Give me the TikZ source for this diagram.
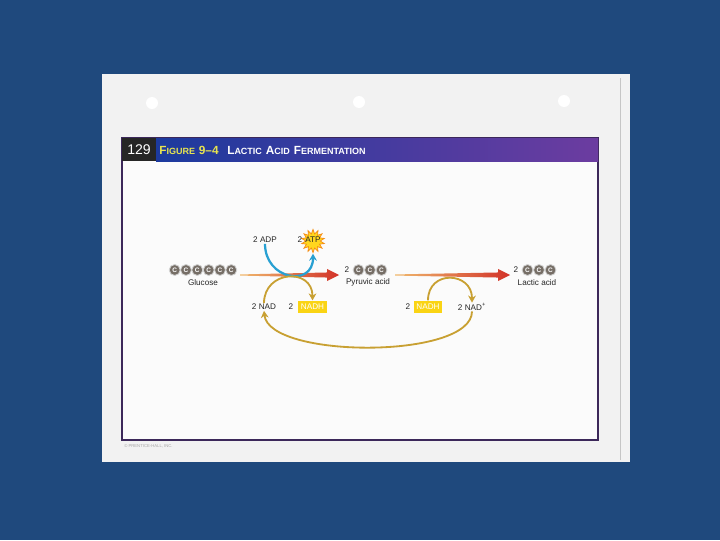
\documentclass[tikz,border=0pt]{standalone}
\usepackage{fontspec}
\setmainfont{Liberation Sans}
\usetikzlibrary{shapes.geometric,arrows.meta,calc}

\definecolor{slide}{RGB}{31,73,125}
\definecolor{paper}{RGB}{242,242,242}
\definecolor{panel}{RGB}{251,251,251}
\definecolor{frame}{RGB}{60,40,90}
\definecolor{hdleft}{RGB}{28,58,158}
\definecolor{hdright}{RGB}{108,60,160}
\definecolor{figyellow}{RGB}{232,228,80}
\definecolor{carbon}{RGB}{118,110,102}
\definecolor{adpblue}{RGB}{40,160,210}
\definecolor{nadgold}{RGB}{200,160,50}
\definecolor{hilite}{RGB}{250,212,20}
\definecolor{starfill}{RGB}{255,215,30}
\definecolor{starline}{RGB}{245,140,20}
\definecolor{flowstart}{RGB}{240,185,110}
\definecolor{flowend}{RGB}{210,50,40}

\newcommand{\smc}[2]{{\fontsize{8.4}{9}\selectfont #1}{\fontsize{6.4}{7}\selectfont #2}}
\newcommand{\flowarrow}[2]{%
  \shade[left color=flowstart, right color=flowend]
    let \p1=(#1), \p2=(#2) in
    (\x1,{\y1+0.4pt}) -- ({\x2-8.5pt},{\y2+1.8pt}) -- ({\x2-8.5pt},{\y2+4.3pt})
    -- (\x2,\y2) -- ({\x2-8.5pt},{\y2-4.3pt}) -- ({\x2-8.5pt},{\y2-1.8pt})
    -- (\x1,{\y1-0.4pt}) -- cycle;}

\tikzset{
  carbon/.style={circle, inner sep=0pt, minimum size=7.8pt, fill=carbon,
    draw=gray!35, line width=0.6pt, text=white, font=\bfseries\fontsize{4.6}{5}\selectfont},
  lbl/.style={inner sep=0.5pt, text=black!85, font=\fontsize{5.8}{6}\selectfont},
  hl/.style={lbl, fill=hilite, text=white, inner sep=0pt, minimum width=20.5pt, minimum height=9pt},
  bluearc/.style={adpblue, line width=1.6pt, -{Stealth[length=5pt,width=5.5pt]}},
  goldarc/.style={nadgold, line width=1.3pt, -{Stealth[length=5pt,width=5.5pt]}},
}

\begin{document}
\begin{tikzpicture}[x=0.025cm, y=-0.025cm]
  \useasboundingbox (0,0) rectangle (720,540);
  % slide and page
  \fill[slide] (0,0) rectangle (720,540);
  \fill[paper] (102,74) rectangle (630,462);
  \draw[gray!45, line width=0.6pt] (620,78) -- (620,460);
  \fill[white] (152,103) circle (6) (359,102) circle (6) (564,101) circle (6);
  % panel and header
  \draw[frame, fill=panel, line width=1pt] (122,138) rectangle (598,440);
  \shade[left color=hdleft, right color=hdright] (156,138) rectangle (598,161);
  \fill[black!85] (122,138) rectangle (156,161);
  \draw
    (139,150) node[text=white, font=\fontsize{10}{10}\selectfont] (num) {129}
    (159,150) node[anchor=west, inner sep=0pt, text=figyellow, font=\bfseries] (fig) {\smc{F}{IGURE} {\fontsize{8.4}{9}\selectfont 9--4}}
    (227,150) node[anchor=west, inner sep=0pt, text=white, font=\bfseries] (title) {\smc{L}{ACTIC} \smc{A}{CID} \smc{F}{ERMENTATION}};
  \node[anchor=west, text=gray!70, inner sep=0pt, font=\fontsize{3}{3}\selectfont] (copy) at (124,446) {\copyright\ PRENTICE-HALL, INC.};

  % molecules
  \draw
    (174.7,270) node[carbon] (g1) {C}
    (186.0,270) node[carbon] (g2) {C}
    (197.3,270) node[carbon] (g3) {C}
    (208.7,270) node[carbon] (g4) {C}
    (220.0,270) node[carbon] (g5) {C}
    (231.3,270) node[carbon] (g6) {C}
    (203,282.5) node[lbl] (glucose) {Glucose}
    (347,270) node[lbl] (p0) {2}
    (358.5,270) node[carbon] (p1) {C}
    (370.0,270) node[carbon] (p2) {C}
    (381.5,270) node[carbon] (p3) {C}
    (368,282.5) node[lbl] (pyruvic) {Pyruvic acid}
    (516,270) node[lbl] (l0) {2}
    (527.5,270) node[carbon] (l1) {C}
    (539.0,270) node[carbon] (l2) {C}
    (550.5,270) node[carbon] (l3) {C}
    (537,282.5) node[lbl] (lactic) {Lactic acid};

  % energy carriers
  \node[star, star points=14, star point ratio=1.6, minimum size=16.5pt, inner sep=0pt,
    fill=starfill, draw=starline, line width=0.5pt] (burst) at (313,241) {};
  \draw
    (265,240) node[lbl] (adp) {2 ADP}
    (300,240) node[lbl] (atp2) {2}
    (313,240) node[lbl] (atp) {ATP}
    (264,307) node[lbl] (nad) {2 NAD}
    (291,307) node[lbl] (nadh2a) {2}
    (312.5,307) node[hl] (nadh1) {NADH}
    (408,307) node[lbl] (nadh2b) {2}
    (428,307) node[hl] (nadh2) {NADH}
    (472,307) node[lbl] (nadp) {2 NAD\textsuperscript{+}};

  % main flow
  \coordinate (f1s) at (240,275);
  \coordinate (f1e) at (339,275);
  \coordinate (f2s) at (395,275);
  \coordinate (f2e) at (510,275);
  \flowarrow{f1s}{f1e}
  \flowarrow{f2s}{f2e}

  % coupled reactions
  \draw[bluearc] (adp.south) .. controls +(0,36) and +(0,34) .. (burst.south);
  \draw[goldarc] (nad.north) .. controls +(0,-33) and +(0,-33) .. (nadh1.north);
  \draw[goldarc] (nadh2.north) .. controls +(0,-31) and +(0,-31) .. (nadp.north);
  \draw[goldarc] (nadp.south) .. controls +(0,48) and +(5,48) .. (nad.south);
\end{tikzpicture}
\end{document}
